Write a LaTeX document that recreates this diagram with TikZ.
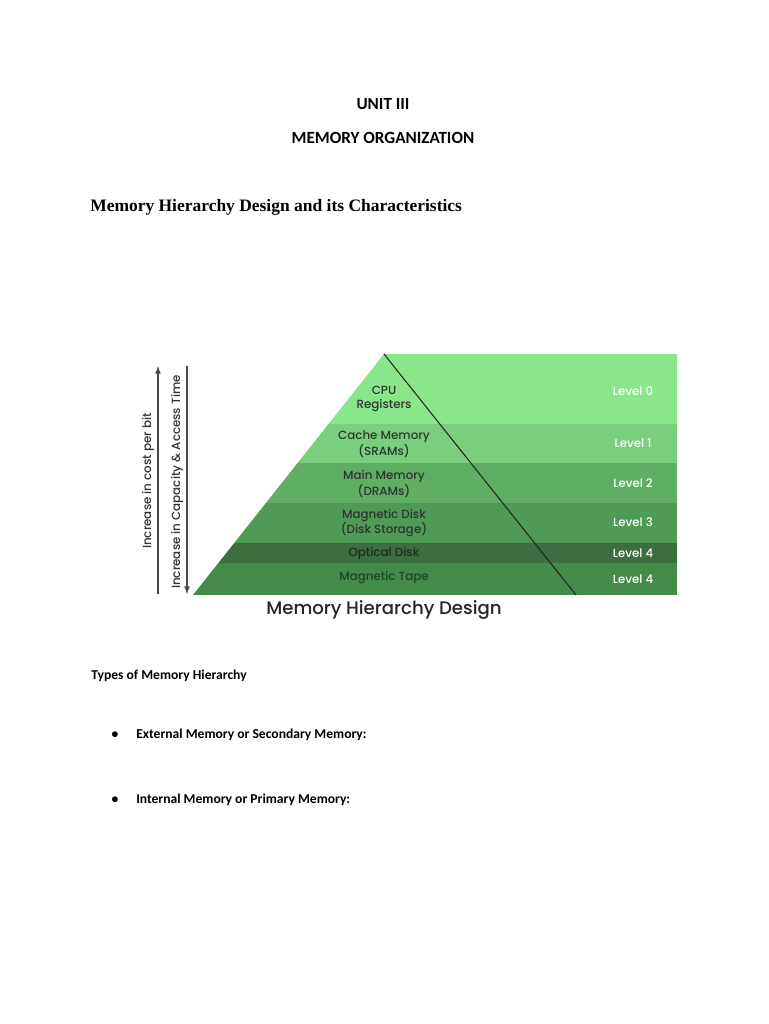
\documentclass[tikz,border=0pt]{standalone}
\usepackage{fontspec}
\setmainfont{Carlito}
\newfontfamily\headfont{Liberation Serif}
\IfFontExistsTF{Poppins Medium}{\newfontfamily\figfont{Poppins Medium}}{\newfontfamily\figfont{Poppins}}
\usepackage{tikz}

\definecolor{band0}{HTML}{8AE68A}
\definecolor{band1}{HTML}{79CF7D}
\definecolor{band2}{HTML}{5FAE63}
\definecolor{band3}{HTML}{4F9A54}
\definecolor{band4}{HTML}{3C6E3F}
\definecolor{band5}{HTML}{448A49}
\definecolor{labelgray}{HTML}{2E352E}
\definecolor{arrowgray}{HTML}{4A4A4A}

\begin{document}
\begin{tikzpicture}[x=0.75pt, y=-0.75pt,
    memlabel/.style={font=\figfont\fontsize{8.9}{10.5}\selectfont, text=labelgray, align=center, inner sep=0pt},
    lvllabel/.style={font=\figfont\fontsize{8.8}{10}\selectfont, text=white, inner sep=0pt},
    sidelabel/.style={font=\figfont\fontsize{8.9}{10}\selectfont, text=black!80, rotate=90, inner sep=0pt},
    doctext/.style={font=\bfseries\fontsize{10.2}{12}\selectfont, anchor=west, inner sep=0pt}]
        \useasboundingbox (0,0) rectangle (768,1024);
        \fill[white] (0,0) rectangle (768,1024);

        % Titles
        \node[font=\bfseries\fontsize{12.8}{15}\selectfont, inner sep=0pt] (unit) at (383,104) {UNIT III};
        \node[font=\bfseries\fontsize{12.8}{15}\selectfont, inner sep=0pt] (org) at (383,138) {MEMORY ORGANIZATION};
        \node[font=\headfont\bfseries\fontsize{13.1}{15}\selectfont, anchor=west, inner sep=0pt] (head) at (90,207) {Memory Hierarchy Design and its Characteristics};

        % Pyramid bands
        \coordinate (apex) at (384,354);
        \coordinate (baseleft) at (193,595);
        \coordinate (baseend) at (576,595);
        \begin{scope}
            \clip (baseleft) -- (apex) -- (677,354) -- (677,595) -- cycle;
            \fill[band0] (190,354) rectangle (677,424);
            \fill[band1] (190,424) rectangle (677,463);
            \fill[band2] (190,463) rectangle (677,503);
            \fill[band3] (190,503) rectangle (677,543);
            \fill[band4] (190,543) rectangle (677,563);
            \fill[band5] (190,563) rectangle (677,595);
        \end{scope}
        \draw[black!85, line width=0.8pt] (apex) -- (baseend);

        % Memory labels
        \node[memlabel] (cpu) at (384,399) {CPU\\Registers};
        \node[memlabel] (cache) at (384,444) {Cache Memory\\(SRAMs)};
        \node[memlabel] (mainmem) at (384,484) {Main Memory\\(DRAMs)};
        \node[memlabel] (disk) at (384,523) {Magnetic Disk\\(Disk Storage)};
        \node[memlabel, text=band4!45!black] (optical) at (384,553) {Optical Disk};
        \node[memlabel, text=band5!50!black] (tape) at (384,578) {Magnetic Tape};

        % Level labels
        \node[lvllabel] (lvl0) at (633,391) {Level 0};
        \node[lvllabel] (lvl1) at (633,443) {Level 1};
        \node[lvllabel] (lvl2) at (633,483) {Level 2};
        \node[lvllabel] (lvl3) at (633,522) {Level 3};
        \node[lvllabel] (lvl4) at (633,553) {Level 4};
        \node[lvllabel] (lvl5) at (633,579) {Level 4};

        % Side arrows
        \coordinate (costlow) at (158,594);
        \coordinate (costhigh) at (158,366);
        \coordinate (caphigh) at (187,366);
        \coordinate (caplow) at (187,594);
        \draw[-latex, arrowgray, line width=1pt] (costlow) -- (costhigh);
        \draw[-latex, arrowgray, line width=1pt] (caphigh) -- (caplow);
        \node[sidelabel] (cost) at (148,481) {Increase in cost per bit};
        \node[sidelabel] (capacity) at (177,482) {Increase in Capacity \& Access Time};

        \node[font=\figfont\fontsize{13.6}{15}\selectfont, text=black!85, inner sep=0pt] (caption) at (384,610) {Memory Hierarchy Design};

        % Types
        \node[doctext] (types) at (91,676) {Types of Memory Hierarchy};
        \node[doctext, anchor=center] (bul1) at (115,735) {\textbullet};
        \node[doctext] (ext) at (136,735) {External Memory or Secondary Memory:};
        \node[doctext, anchor=center] (bul2) at (115,800) {\textbullet};
        \node[doctext] (int) at (136,800) {Internal Memory or Primary Memory:};
    \end{tikzpicture}
\end{document}
